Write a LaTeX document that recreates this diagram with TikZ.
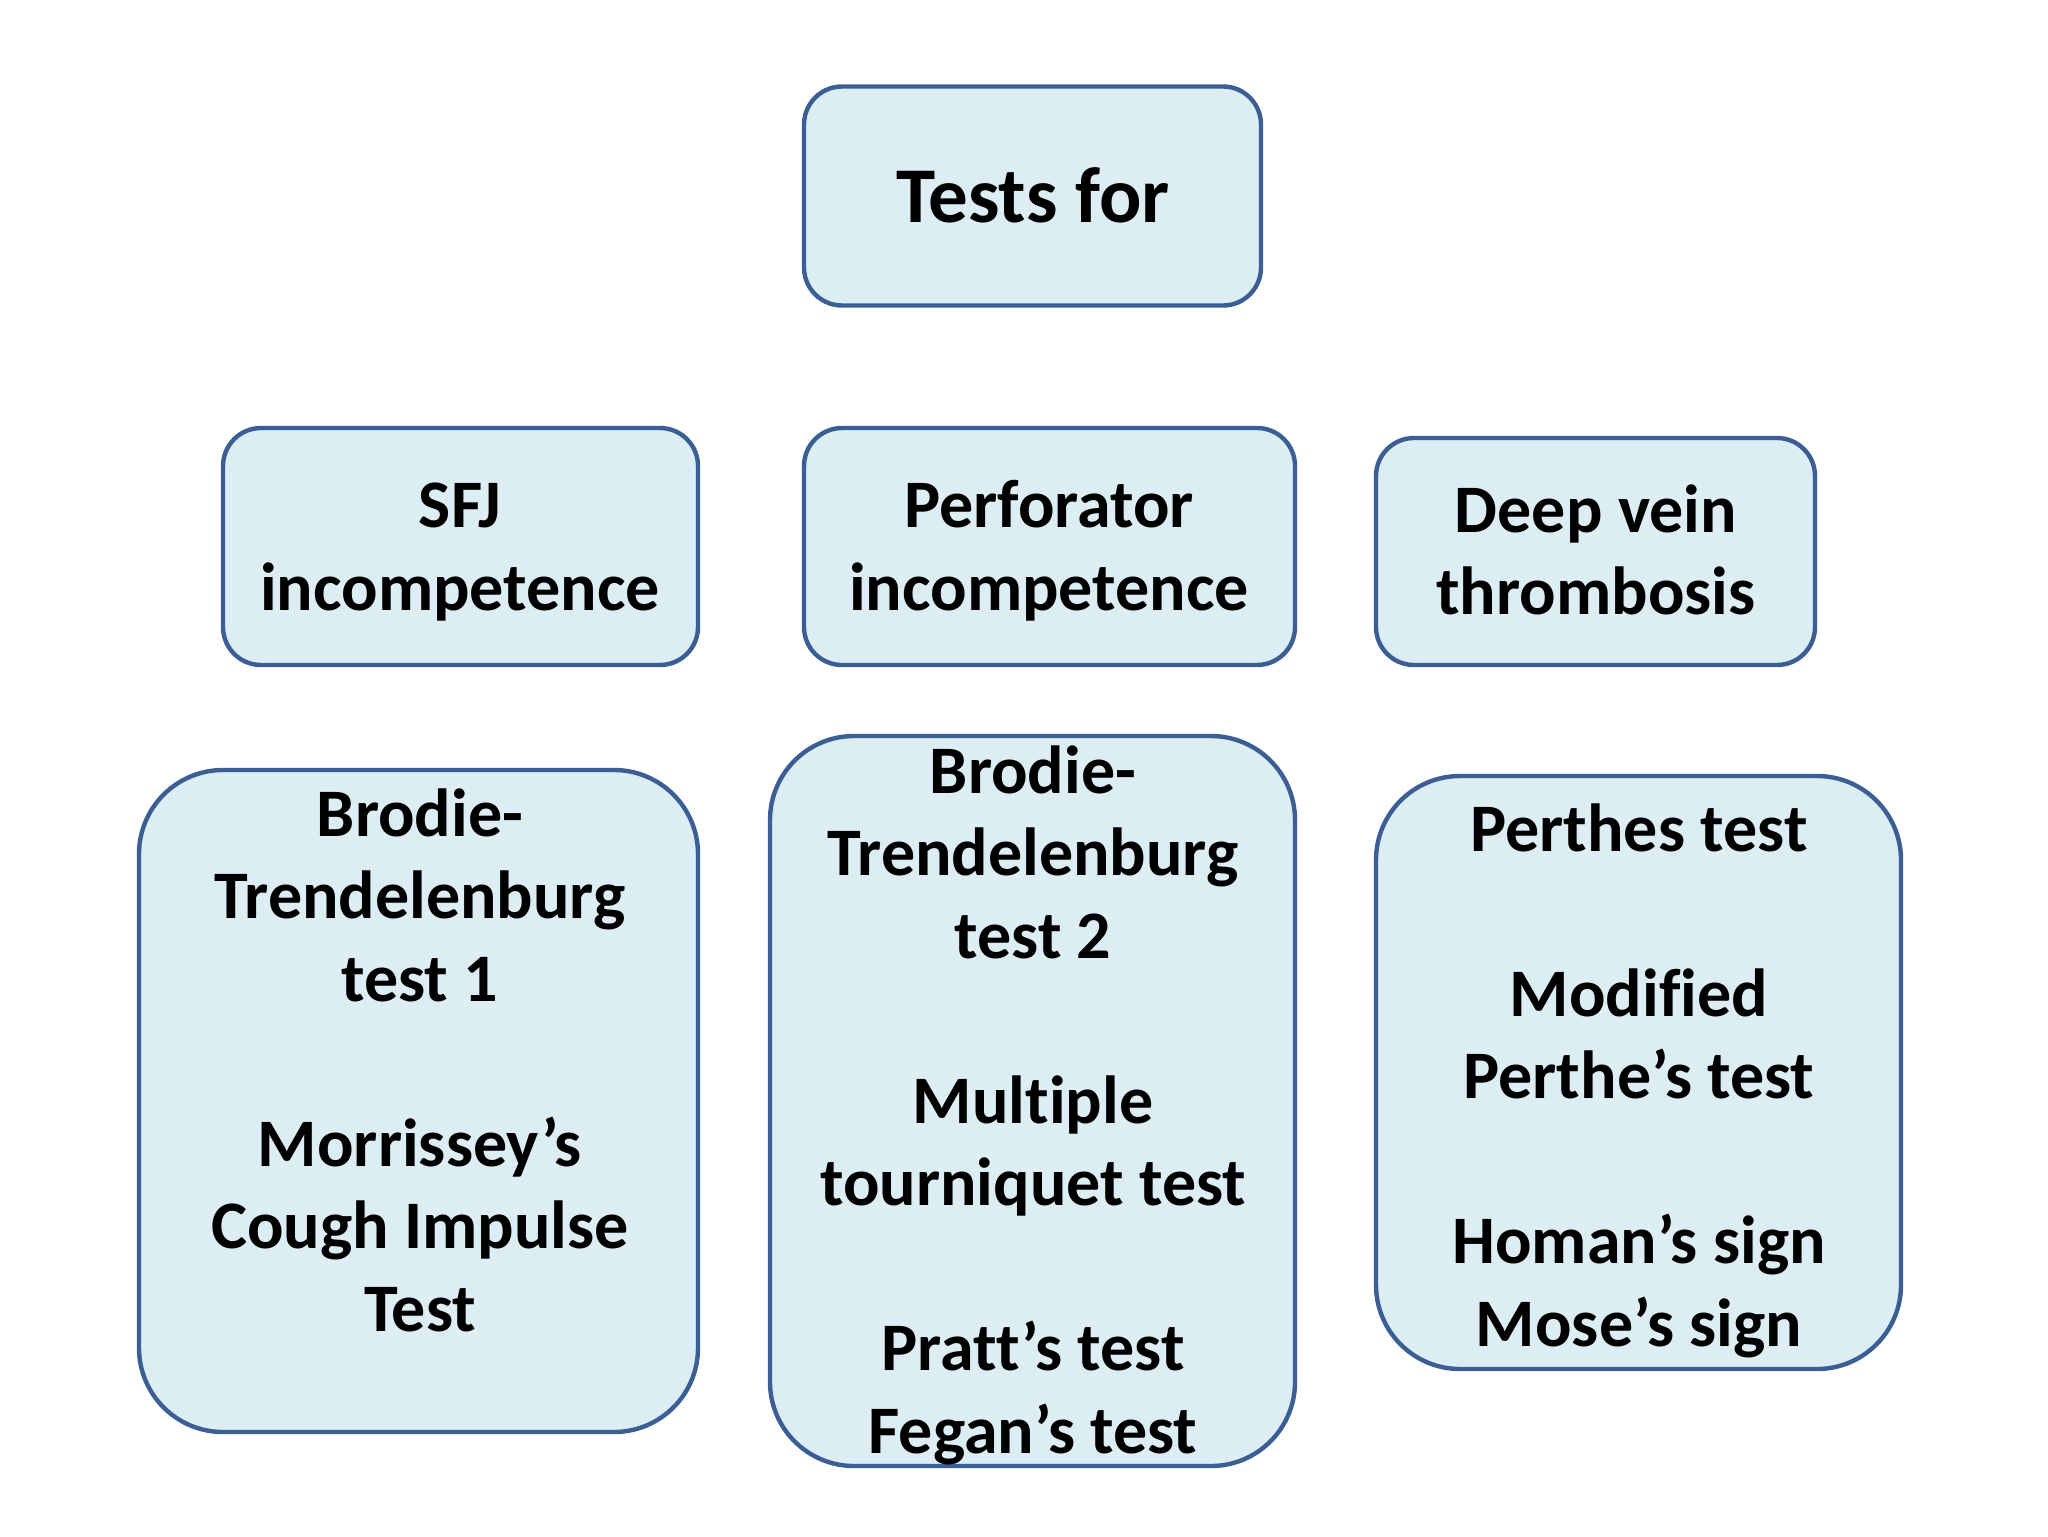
\documentclass[tikz,border=0pt]{standalone}
\usepackage{fontspec}
\setmainfont{Carlito}[Ligatures=NoCommon]
\definecolor{boxfill}{HTML}{DCEDF3}
\definecolor{boxline}{HTML}{3B5F94}
\newcommand{\bodyfont}{\fontsize{34pt}{41pt}\selectfont\bfseries}
\newcommand{\titlefont}{\fontsize{39.5pt}{47pt}\selectfont\bfseries}
\tikzset{
  card/.style={draw=boxline, fill=boxfill, line width=2.2pt, inner sep=0pt, rectangle},
  small card/.style={card, rounded corners=19pt},
  big card/.style={card, rounded corners=42pt},
  lbl/.style={anchor=base, inner sep=0pt, font=\bodyfont, text=black},
  ttl/.style={anchor=base, inner sep=0pt, font=\titlefont, text=black}
}
\begin{document}
\begin{tikzpicture}[x=0.5pt, y=-0.5pt]
\useasboundingbox (0,0) rectangle (2048,1536);
% boxes (centre, size in px -> pt = px/2)
\node[small card, minimum width=228.5pt, minimum height=109.5pt] (top) at (1032.5,196) {};
\node[small card, minimum width=237.5pt, minimum height=118.5pt] (sfj) at (460.5,546.5) {};
\node[small card, minimum width=245.5pt, minimum height=118.5pt] (perf) at (1049.5,546.5) {};
\node[small card, minimum width=219.5pt, minimum height=113.5pt] (dvt) at (1595.5,551.5) {};
\node[big card, minimum width=279.5pt, minimum height=331pt] (bl) at (418.5,1101) {};
\node[big card, minimum width=262.5pt, minimum height=365pt] (bm) at (1032.5,1101) {};
\node[big card, minimum width=262.5pt, minimum height=296.5pt] (br) at (1638.5,1072.5) {};
% texts
\node[ttl] (t0) at (1033,222) {Tests for};
\node[lbl] (s1) at (460,527) {SFJ};
\node[lbl] (s2) at (460,610) {incompetence};
\node[lbl] (p1) at (1049,527) {Perforator};
\node[lbl] (p2) at (1049,610) {incompetence};
\node[lbl] (d1) at (1596,532) {Deep vein};
\node[lbl] (d2) at (1596,614) {thrombosis};
\node[lbl] (l1) at (420,836) {Brodie-};
\node[lbl] (l2) at (420,918.5) {Trendelenburg};
\node[lbl] (l3) at (420,1001) {test 1};
\node[lbl] (l4) at (420,1166) {Morrissey’s};
\node[lbl] (l5) at (420,1248.5) {Cough Impulse};
\node[lbl] (l6) at (420,1331) {Test};
\node[lbl] (m1) at (1033,793) {Brodie-};
\node[lbl] (m2) at (1033,875.5) {Trendelenburg};
\node[lbl] (m3) at (1033,958) {test 2};
\node[lbl] (m4) at (1033,1123) {Multiple};
\node[lbl] (m5) at (1033,1205.5) {tourniquet test};
\node[lbl] (m6) at (1033,1370.5) {Pratt’s test};
\node[lbl] (m7) at (1033,1453) {Fegan’s test};
\node[lbl] (r1) at (1639,851) {Perthes test};
\node[lbl] (r2) at (1639,1016) {Modified};
\node[lbl] (r3) at (1639,1098.5) {Perthe’s test};
\node[lbl] (r4) at (1639,1263.5) {Homan’s sign};
\node[lbl] (r5) at (1639,1346) {Mose’s sign};
\end{tikzpicture}
\end{document}
